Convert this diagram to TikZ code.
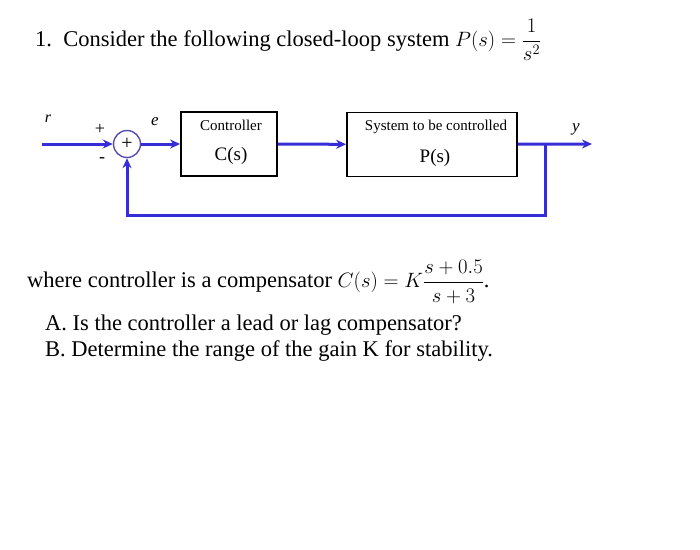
\documentclass[tikz,border=0pt]{standalone}
\usepackage{amsmath}
\usepackage{fontspec}
\setmainfont{Liberation Serif}
\usetikzlibrary{arrows.meta}
\definecolor{sig}{RGB}{55,45,215}
\begin{document}
\begin{tikzpicture}[x=1pt,y=-1pt,
  blk/.style={draw,line width=1.8pt,minimum width=#1,minimum height=64pt,inner sep=0pt},
  sig/.style={draw=sig,line width=3pt,-{Stealth[length=10pt,width=9pt]}},
  txt/.style={anchor=west,inner sep=0pt,font=\fontsize{22.5}{26}\selectfont}]
\useasboundingbox (0,0) rectangle (700,549);
\node[txt] (t1) at (35,40) {1.\ \ Consider the following closed-loop system $P(s)=\dfrac{1}{s^2}$};
\node[blk=96pt] (c) at (229,144) {};
\node[font=\fontsize{15}{17}\selectfont] (ct) at (231,125) {Controller};
\node[font=\fontsize{19}{21}\selectfont] (cs) at (231,156) {C(s)};
\node[blk=170pt] (p) at (432,144.5) {};
\node[font=\fontsize{15}{17}\selectfont] (pt) at (436,127) {System to be controlled};
\node[font=\fontsize{19}{21}\selectfont] (ps) at (435,158) {P(s)};
\node[circle,draw=sig!60!gray,line width=1.4pt,minimum size=27pt,inner sep=0pt,font=\fontsize{20}{22}\selectfont] (s) at (127,144) {+};
\coordinate (in) at (42,144);
\coordinate (out) at (592,144);
\coordinate (br) at (545,144);
\coordinate (b1) at (545,215);
\coordinate (b2) at (127,215);
\draw[sig] (in) -- (s);
\draw[sig] (s) -- (c);
\draw[sig] (c) -- (p);
\draw[sig] (p) -- (out);
\draw[sig] (br) -- (b1) -- (b2) -- (s);
\node[font=\itshape\fontsize{16}{18}\selectfont] (r) at (48,119) {r};
\node[font=\fontsize{18}{20}\selectfont] (pl) at (100,129) {+};
\node[font=\fontsize{18}{20}\selectfont] (mi) at (102,160) {-};
\node[font=\itshape\fontsize{17}{19}\selectfont] (e) at (155,122) {e};
\node[font=\itshape\fontsize{17}{19}\selectfont] (y) at (576,129) {y};
\node[txt] (t2) at (27,282) {where controller is a compensator $C(s)=K\dfrac{s+0.5}{s+3}$.};
\node[txt] (t3) at (45,325) {A. Is the controller a lead or lag compensator?};
\node[txt] (t4) at (45,351) {B. Determine the range of the gain K for stability.};
\end{tikzpicture}
\end{document}
